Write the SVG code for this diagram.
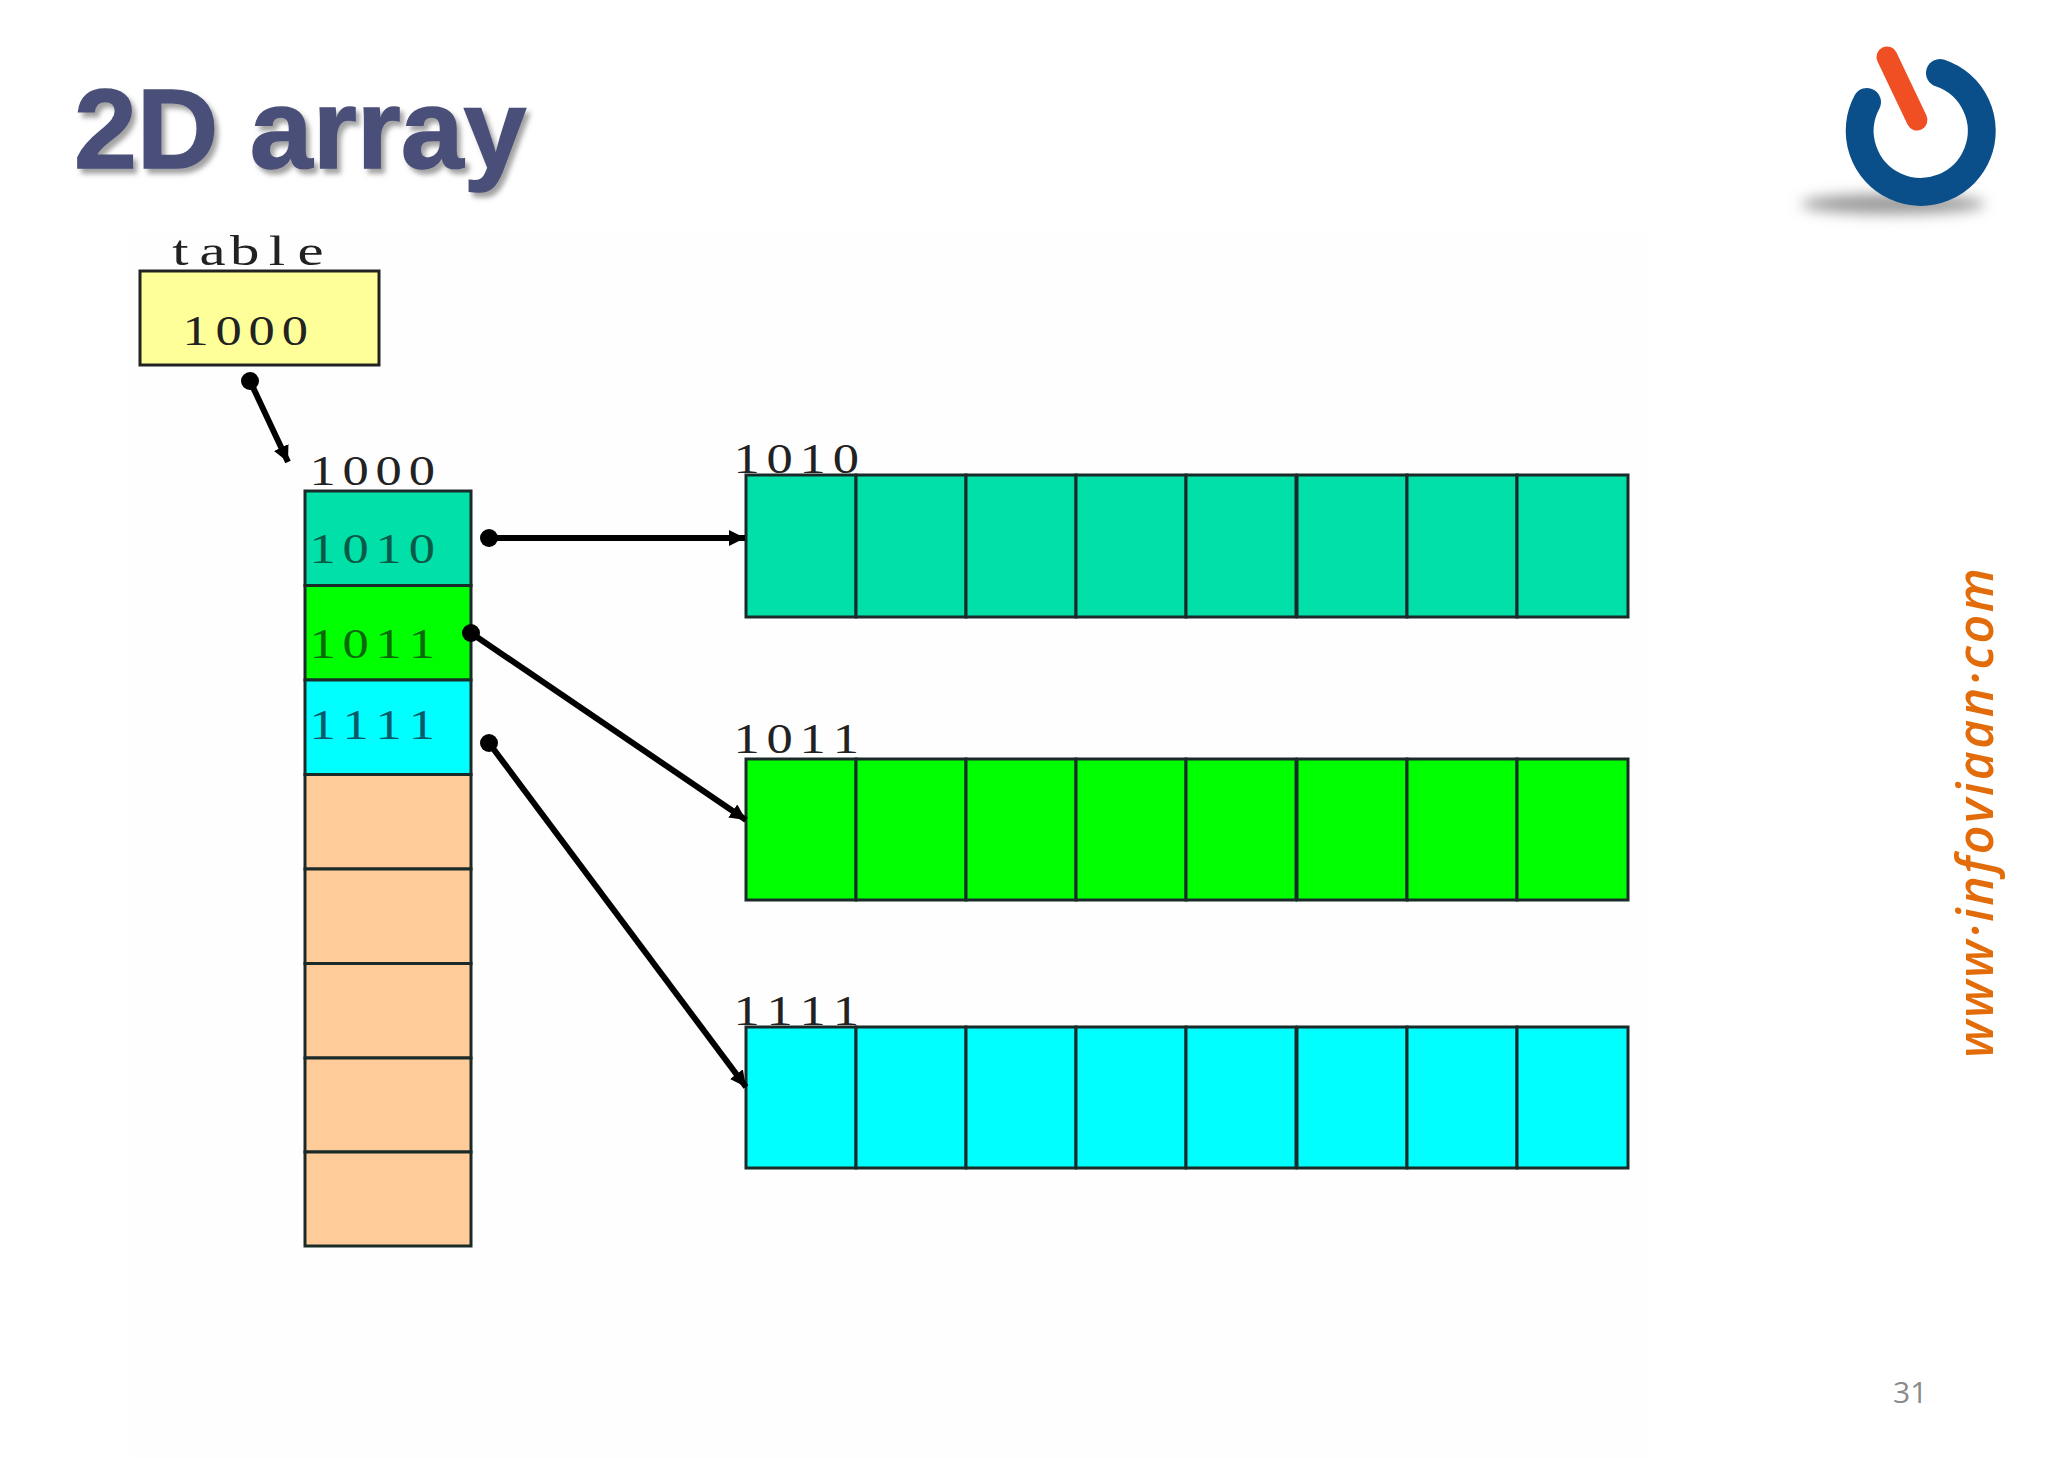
<svg xmlns="http://www.w3.org/2000/svg" width="2048" height="1459" viewBox="0 0 2048 1459">
<defs>
<style>
.lbl{font-family:"Liberation Serif",serif;font-size:42px;text-anchor:middle;fill:#222}
.cell{stroke:#1a2a28;stroke-width:3}
.teal{fill:#00e0a8}.green{fill:#00ff00}.cyan{fill:#00ffff}.peach{fill:#ffcc99}
.conn{stroke:#000;stroke-width:6;fill:none;marker-end:url(#arrow)}
.dot{fill:#000}
</style>
<marker id="arrow" markerUnits="userSpaceOnUse" markerWidth="18" markerHeight="16" refX="16" refY="8" orient="auto"><path d="M0 0L16 8L0 16Z" fill="#000"/></marker>
<filter id="ts" x="-5%" y="-10%" width="115%" height="130%"><feDropShadow dx="4" dy="5" stdDeviation="2.5" flood-color="#555" flood-opacity="0.55"/></filter>
<filter id="blur" x="-30%" y="-100%" width="160%" height="300%"><feGaussianBlur stdDeviation="7"/></filter>
</defs>
<rect width="2048" height="1459" fill="#fff"/>
<rect x="130" y="230" width="1520" height="1229" fill="#fefefe"/>
<text id="title" x="74" y="168" font-family="Liberation Sans,Arial,sans-serif" font-weight="700" font-size="113" fill="#4a5078" stroke="#4a5078" stroke-width="1.5" filter="url(#ts)">2D array</text>
<g id="logo">
<ellipse cx="1893" cy="204" rx="92" ry="10" fill="#999" filter="url(#blur)"/>
<path d="M1940 73A61 61 0 1 1 1867 102" fill="none" stroke="#0b4f8a" stroke-width="28" stroke-linecap="round"/>
<path d="M1887 57L1917 120" fill="none" stroke="#f04e23" stroke-width="21" stroke-linecap="round"/>
</g>
<g id="table">
<text class="lbl" transform="translate(165 265) scale(1.4 1)" x="11 34 57 80 104">table</text>
<rect x="140" y="271" width="239" height="94" fill="#ffff99" stroke="#222" stroke-width="3"/>
<text class="lbl" transform="translate(183 345) scale(1.25 1)" x="10 36.5 63 89.5">1000</text>
</g>
<g id="memory">
<text class="lbl" transform="translate(310 485) scale(1.25 1)" x="10 36.5 63 89.5">1000</text>
<rect class="cell teal" x="305" y="491" width="166" height="94.5"/>
<rect class="cell green" x="305" y="585.5" width="166" height="94.5"/>
<rect class="cell cyan" x="305" y="680" width="166" height="94.5"/>
<rect class="cell peach" x="305" y="774.5" width="166" height="94.5"/>
<rect class="cell peach" x="305" y="869" width="166" height="94.5"/>
<rect class="cell peach" x="305" y="963.5" width="166" height="94.5"/>
<rect class="cell peach" x="305" y="1058" width="166" height="94"/>
<rect class="cell peach" x="305" y="1152" width="166" height="94"/>
<text class="lbl" transform="translate(310 563) scale(1.25 1)" x="10 36.5 63 89.5" style="fill:#0a5a48">1010</text>
<text class="lbl" transform="translate(310 658) scale(1.25 1)" x="10 36.5 63 89.5" style="fill:#0a6a0a">1011</text>
<text class="lbl" transform="translate(310 739) scale(1.25 1)" x="10 36.5 63 89.5" style="fill:#0a5a6a">1111</text>
</g>
<g id="row1">
<text class="lbl" transform="translate(734 473) scale(1.25 1)" x="10 36.5 63 89.5">1010</text>
<rect class="cell teal" x="746" y="475" width="110" height="142"/><rect class="cell teal" x="856" y="475" width="110" height="142"/><rect class="cell teal" x="966" y="475" width="110" height="142"/><rect class="cell teal" x="1076" y="475" width="110" height="142"/><rect class="cell teal" x="1186" y="475" width="110" height="142"/><rect class="cell teal" x="1297" y="475" width="110" height="142"/><rect class="cell teal" x="1407" y="475" width="110" height="142"/><rect class="cell teal" x="1517" y="475" width="111" height="142"/>
</g>
<g id="row2">
<text class="lbl" transform="translate(734 753) scale(1.25 1)" x="10 36.5 63 89.5">1011</text>
<rect class="cell green" x="746" y="759" width="110" height="141"/><rect class="cell green" x="856" y="759" width="110" height="141"/><rect class="cell green" x="966" y="759" width="110" height="141"/><rect class="cell green" x="1076" y="759" width="110" height="141"/><rect class="cell green" x="1186" y="759" width="110" height="141"/><rect class="cell green" x="1297" y="759" width="110" height="141"/><rect class="cell green" x="1407" y="759" width="110" height="141"/><rect class="cell green" x="1517" y="759" width="111" height="141"/>
</g>
<g id="row3">
<text class="lbl" transform="translate(734 1025) scale(1.25 1)" x="10 36.5 63 89.5">1111</text>
<rect class="cell cyan" x="746" y="1027" width="110" height="141"/><rect class="cell cyan" x="856" y="1027" width="110" height="141"/><rect class="cell cyan" x="966" y="1027" width="110" height="141"/><rect class="cell cyan" x="1076" y="1027" width="110" height="141"/><rect class="cell cyan" x="1186" y="1027" width="110" height="141"/><rect class="cell cyan" x="1297" y="1027" width="110" height="141"/><rect class="cell cyan" x="1407" y="1027" width="110" height="141"/><rect class="cell cyan" x="1517" y="1027" width="111" height="141"/>
</g>
<g id="connectors">
<circle class="dot" cx="250" cy="381" r="9"/><path class="conn" d="M250 381L288 462"/>
<circle class="dot" cx="489" cy="538" r="9"/><path class="conn" d="M489 538L745 538"/>
<circle class="dot" cx="471" cy="633" r="9"/><path class="conn" d="M471 633L746 820"/>
<circle class="dot" cx="489" cy="743" r="9"/><path class="conn" d="M489 743L746 1087"/>
</g>
<text id="side" transform="translate(1993 1058) rotate(-90)" font-family="Open Sans,sans-serif" font-style="italic" font-weight="600" font-size="50" fill="#e36c0a" textLength="490" lengthAdjust="spacing">www·infoviaan·com</text>
<text id="page" x="1893" y="1403" font-family="Open Sans,sans-serif" font-size="30" fill="#8a8a8a">31</text>
</svg>
